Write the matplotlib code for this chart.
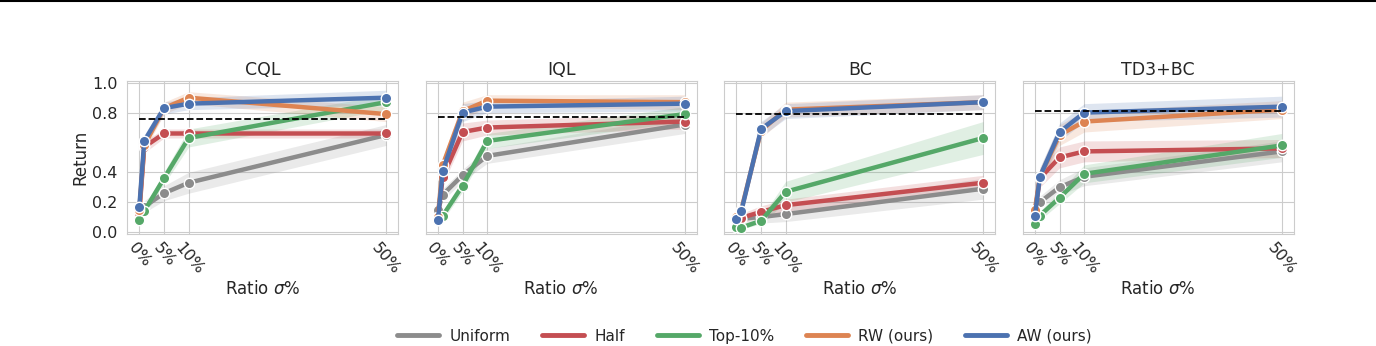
import numpy as np
import matplotlib.pyplot as plt
import seaborn as sns
from matplotlib.lines import Line2D

# ratio of noisy data (%), x positions of the points
ratios = [0, 1, 5, 10, 50]
tick_pos = [0, 5, 10, 50]
tick_labels = ["0%", "5%", "10%", "50%"]

algos = ["CQL", "IQL", "BC", "TD3+BC"]
methods = ["Uniform", "Half", "Top-10%", "RW (ours)", "AW (ours)"]

# rows follow `methods`
cql_mean = [[0.12, 0.17, 0.26, 0.33, 0.65],
            [0.13, 0.57, 0.66, 0.66, 0.66],
            [0.08, 0.14, 0.36, 0.63, 0.87],
            [0.15, 0.58, 0.83, 0.90, 0.79],
            [0.17, 0.61, 0.83, 0.86, 0.90]]
cql_sd = [[0.03, 0.04, 0.05, 0.07, 0.07],
          [0.03, 0.04, 0.03, 0.03, 0.03],
          [0.02, 0.03, 0.04, 0.06, 0.05],
          [0.03, 0.04, 0.04, 0.04, 0.05],
          [0.03, 0.04, 0.04, 0.04, 0.05]]

iql_mean = [[0.15, 0.25, 0.38, 0.51, 0.72],
            [0.10, 0.37, 0.67, 0.70, 0.74],
            [0.08, 0.11, 0.31, 0.61, 0.79],
            [0.10, 0.45, 0.81, 0.88, 0.87],
            [0.08, 0.41, 0.80, 0.84, 0.86]]
iql_sd = [[0.03, 0.04, 0.04, 0.05, 0.06],
          [0.03, 0.05, 0.06, 0.05, 0.05],
          [0.02, 0.03, 0.04, 0.05, 0.05],
          [0.03, 0.05, 0.06, 0.04, 0.05],
          [0.03, 0.05, 0.06, 0.04, 0.05]]

bc_mean = [[0.08, 0.09, 0.10, 0.12, 0.29],
           [0.09, 0.095, 0.135, 0.18, 0.33],
           [0.035, 0.03, 0.075, 0.27, 0.63],
           [0.10, 0.15, 0.68, 0.82, 0.87],
           [0.09, 0.14, 0.69, 0.81, 0.87]]
bc_sd = [[0.02, 0.03, 0.04, 0.05, 0.07],
         [0.02, 0.03, 0.04, 0.04, 0.05],
         [0.01, 0.01, 0.02, 0.07, 0.11],
         [0.02, 0.03, 0.05, 0.05, 0.05],
         [0.02, 0.03, 0.05, 0.05, 0.05]]

td3bc_mean = [[0.13, 0.20, 0.30, 0.37, 0.54],
              [0.13, 0.36, 0.50, 0.54, 0.56],
              [0.056, 0.11, 0.23, 0.39, 0.58],
              [0.15, 0.37, 0.65, 0.74, 0.82],
              [0.11, 0.37, 0.67, 0.80, 0.84]]
td3bc_sd = [[0.02, 0.04, 0.05, 0.06, 0.07],
            [0.03, 0.06, 0.07, 0.07, 0.06],
            [0.02, 0.03, 0.04, 0.06, 0.08],
            [0.03, 0.06, 0.07, 0.07, 0.06],
            [0.03, 0.06, 0.06, 0.06, 0.07]]

# dashed reference level per algorithm
reference = [0.76, 0.77, 0.79, 0.81]

means = [cql_mean, iql_mean, bc_mean, td3bc_mean]
sds = [cql_sd, iql_sd, bc_sd, td3bc_sd]

sns.set_style("whitegrid")
plt.rcParams['font.family'] = ['DejaVu Sans']

colors = ["#8c8c8c", "#c44e52", "#55a868", "#dd8452", "#4c72b0"]

fig, axes = plt.subplots(1, 4, figsize=(13.76, 3.46), dpi=100, sharey=True)
fig.subplots_adjust(left=0.0923, right=0.9404, top=0.766, bottom=0.323, wspace=0.10)

x = np.array(ratios)
for ax, name, mean, sd, ref in zip(axes, algos, means, sds, reference):
    for i, m in enumerate(methods):
        mu = np.array(mean[i])
        s = np.array(sd[i])
        ax.fill_between(x, mu - s, mu + s, color=colors[i], alpha=0.18, lw=0)
        ax.plot(x, mu, color=colors[i], lw=3.2, marker='o', ms=7.5,
                mec='white', mew=1.0, label=m)
    ax.plot([x[0], x[-1]], [ref, ref], color='black', ls='--', lw=1.3, zorder=5)
    ax.set_title(name, fontsize=12.5, pad=4)
    ax.set_xticks(tick_pos)
    ax.set_xticklabels(tick_labels, rotation=-50, fontsize=11.5)
    ax.set_xlabel(r"Ratio $\sigma$%", fontsize=12, labelpad=2)
    ax.set_xlim(-2.5, 52.5)
    ax.tick_params(axis='x', pad=1)
    for sp in ax.spines.values():
        sp.set_color('#cccccc')

axes[0].set_ylim(-0.015, 1.012)
axes[0].set_yticks([0.0, 0.2, 0.4, 0.8, 1.0])
axes[0].set_yticklabels(["0.0", "0.2", "0.4", "0.8", "1.0"], fontsize=11.5)
axes[0].set_ylabel("Return", fontsize=12, labelpad=2)

handles = [Line2D([0], [0], color=c, lw=3.5) for c in colors]
fig.legend(handles, methods, loc='center', bbox_to_anchor=(0.541, 0.028), ncol=5,
           frameon=False, fontsize=11, handlelength=2.75, handletextpad=0.65,
           columnspacing=2.1)

# rule across the top of the page
fig.add_artist(Line2D([0, 1], [0.996, 0.996], color='black', lw=1.5,
                      transform=fig.transFigure))

fig.savefig("out.png", dpi=100)
